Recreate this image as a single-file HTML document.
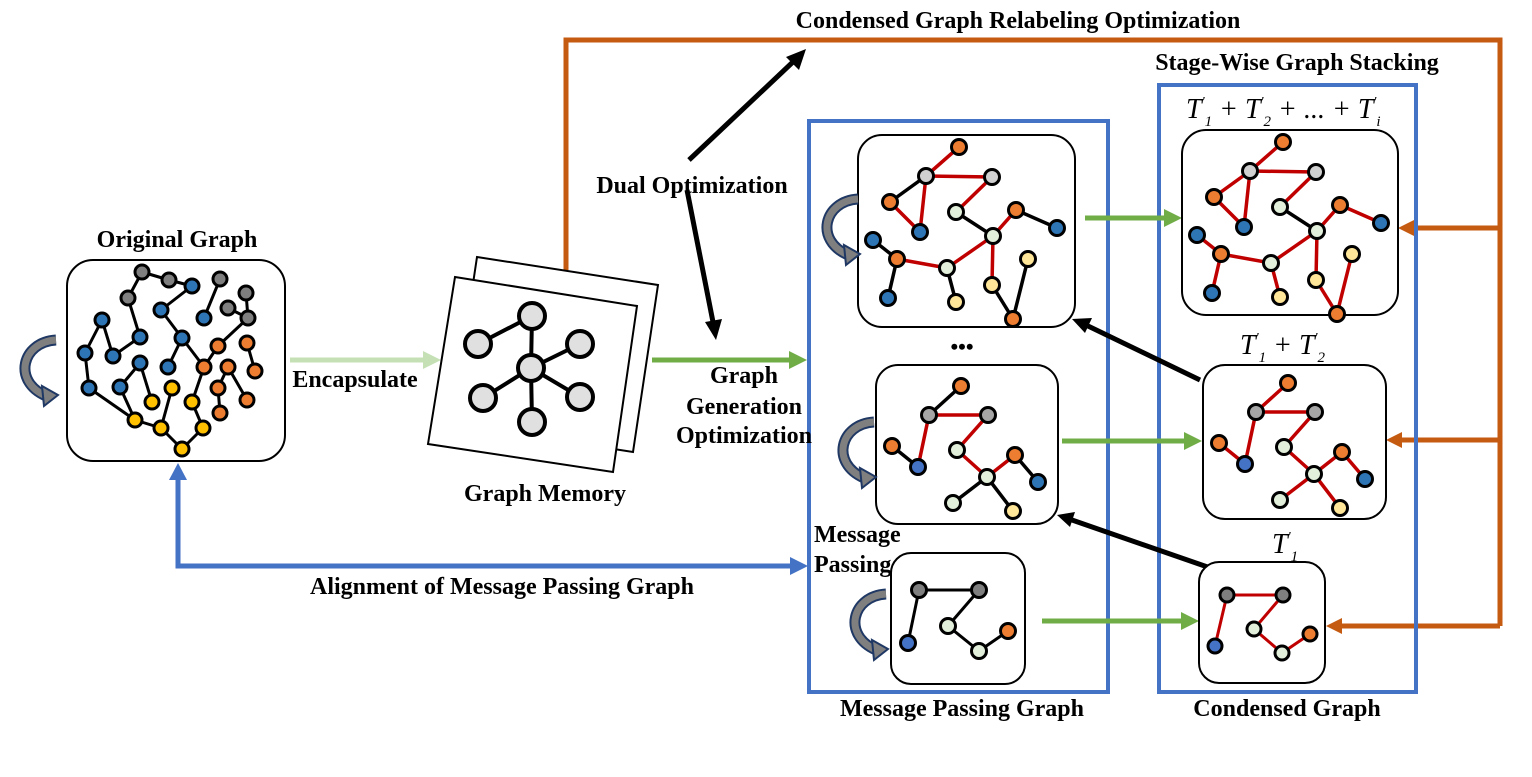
<!DOCTYPE html>
<html><head><meta charset="utf-8"><style>
html,body{margin:0;padding:0;background:#fff;}
svg{display:block;}
text{font-family:"Liberation Serif",serif;font-weight:bold;fill:#000;}
.m{font-family:"Liberation Serif",serif;font-style:italic;font-weight:normal;}
</style></head><body>
<svg width="1532" height="777" viewBox="0 0 1532 777" xmlns="http://www.w3.org/2000/svg">
<defs>
<g id="rot">
<path d="M40,4 C6,6 -4,45 30,60" fill="none" stroke="#1f3864" stroke-width="11"/>
<path d="M40,4 C6,6 -4,45 30,60" fill="none" stroke="#7f7f7f" stroke-width="7"/>
<polygon points="26,50 42,59 28,70" fill="#7f7f7f" stroke="#1f3864" stroke-width="2"/>
</g>
</defs>

<g stroke="#C55A11" stroke-width="5" fill="none">
<polyline points="566,270 566,40 1500,40 1500,626"/>
<line x1="1500" y1="228" x2="1412" y2="228"/>
<line x1="1500" y1="440" x2="1400" y2="440"/>
<line x1="1500" y1="626" x2="1340" y2="626"/>
</g>
<g fill="#C55A11">
<polygon points="1398,228 1414,220 1414,236"/>
<polygon points="1386,440 1402,432 1402,448"/>
<polygon points="1326,626 1342,618 1342,634"/>
</g>

<rect x="809" y="121" width="299" height="571" fill="none" stroke="#4472C4" stroke-width="4"/>
<rect x="1159" y="85" width="257" height="607" fill="none" stroke="#4472C4" stroke-width="4"/>

<polyline points="792,566 178,566 178,478" fill="none" stroke="#4472C4" stroke-width="5"/>
<polygon points="808,566 790,557 790,575" fill="#4472C4"/>
<polygon points="178,463 169,480 187,480" fill="#4472C4"/>

<g stroke-width="5">
<line x1="290" y1="360" x2="425" y2="360" stroke="#C5E0B4"/>
<line x1="652" y1="360" x2="790" y2="360" stroke="#70AD47"/>
<line x1="1085" y1="218" x2="1165" y2="218" stroke="#70AD47"/>
<line x1="1062" y1="441" x2="1185" y2="441" stroke="#70AD47"/>
<line x1="1042" y1="621" x2="1182" y2="621" stroke="#70AD47"/>
</g>
<polygon points="441,360 423,351 423,369" fill="#C5E0B4"/>
<g fill="#70AD47">
<polygon points="807,360 789,351 789,369"/>
<polygon points="1182,218 1164,209 1164,227"/>
<polygon points="1202,441 1184,432 1184,450"/>
<polygon points="1199,621 1181,612 1181,630"/>
</g>

<g stroke="#000" stroke-width="5">
<line x1="689" y1="160" x2="795" y2="60"/>
<line x1="687" y1="190" x2="713" y2="322"/>
<line x1="1200" y1="380" x2="1088" y2="326"/>
<line x1="1222" y1="572" x2="1072" y2="520"/>
</g>
<polygon points="806,49 799,70 786,57" fill="#000"/>
<polygon points="716,340 705,322 722,319" fill="#000"/>
<polygon points="1072,319 1092,318 1085,333" fill="#000"/>
<polygon points="1057,515 1075,512 1070,527" fill="#000"/>

<rect x="67" y="260" width="218" height="201" rx="26" fill="#fff" stroke="#000" stroke-width="2"/>
<use href="#rot" x="16" y="336"/>
<g stroke="#000" stroke-width="3">
<line x1="142" y1="272" x2="169" y2="280"/><line x1="169" y1="280" x2="192" y2="286"/>
<line x1="192" y1="286" x2="161" y2="310"/><line x1="220" y1="279" x2="204" y2="318"/>
<line x1="142" y1="272" x2="128" y2="298"/><line x1="128" y1="298" x2="140" y2="337"/>
<line x1="140" y1="337" x2="113" y2="356"/><line x1="113" y1="356" x2="102" y2="320"/>
<line x1="102" y1="320" x2="85" y2="353"/><line x1="85" y1="353" x2="89" y2="388"/>
<line x1="89" y1="388" x2="135" y2="420"/><line x1="135" y1="420" x2="120" y2="387"/>
<line x1="120" y1="387" x2="140" y2="363"/><line x1="135" y1="420" x2="161" y2="428"/>
<line x1="161" y1="428" x2="172" y2="388"/><line x1="161" y1="428" x2="182" y2="449"/>
<line x1="182" y1="449" x2="203" y2="428"/><line x1="203" y1="428" x2="192" y2="402"/>
<line x1="192" y1="402" x2="204" y2="367"/><line x1="204" y1="367" x2="218" y2="346"/>
<line x1="218" y1="346" x2="248" y2="318"/><line x1="248" y1="318" x2="228" y2="308"/>
<line x1="248" y1="318" x2="246" y2="293"/><line x1="161" y1="310" x2="182" y2="338"/>
<line x1="182" y1="338" x2="168" y2="367"/><line x1="182" y1="338" x2="204" y2="367"/>
<line x1="228" y1="367" x2="218" y2="388"/><line x1="218" y1="388" x2="220" y2="413"/>
<line x1="228" y1="367" x2="247" y2="400"/><line x1="247" y1="343" x2="255" y2="371"/>
<line x1="140" y1="363" x2="152" y2="402"/>
</g>
<g stroke="#000" stroke-width="3">
<g fill="#7f7f7f"><circle cx="142" cy="272" r="7"/><circle cx="169" cy="280" r="7"/><circle cx="128" cy="298" r="7"/><circle cx="220" cy="279" r="7"/><circle cx="246" cy="293" r="7"/><circle cx="228" cy="308" r="7"/><circle cx="248" cy="318" r="7"/></g>
<g fill="#2E75B6"><circle cx="192" cy="286" r="7"/><circle cx="161" cy="310" r="7"/><circle cx="204" cy="318" r="7"/><circle cx="102" cy="320" r="7"/><circle cx="140" cy="337" r="7"/><circle cx="182" cy="338" r="7"/><circle cx="85" cy="353" r="7"/><circle cx="113" cy="356" r="7"/><circle cx="140" cy="363" r="7"/><circle cx="168" cy="367" r="7"/><circle cx="89" cy="388" r="7"/><circle cx="120" cy="387" r="7"/></g>
<g fill="#ED7D31"><circle cx="218" cy="346" r="7"/><circle cx="247" cy="343" r="7"/><circle cx="204" cy="367" r="7"/><circle cx="228" cy="367" r="7"/><circle cx="255" cy="371" r="7"/><circle cx="218" cy="388" r="7"/><circle cx="247" cy="400" r="7"/><circle cx="220" cy="413" r="7"/></g>
<g fill="#FFC000"><circle cx="172" cy="388" r="7"/><circle cx="152" cy="402" r="7"/><circle cx="192" cy="402" r="7"/><circle cx="135" cy="420" r="7"/><circle cx="161" cy="428" r="7"/><circle cx="203" cy="428" r="7"/><circle cx="182" cy="449" r="7"/></g>
</g>

<polygon points="477,257 658,285 633,452 452,424" fill="#fff" stroke="#000" stroke-width="2"/>
<polygon points="455,277 637,306 613,472 428,444" fill="#fff" stroke="#000" stroke-width="2"/>
<g stroke="#000" stroke-width="4">
<line x1="531" y1="368" x2="532" y2="316"/><line x1="532" y1="316" x2="478" y2="344"/>
<line x1="531" y1="368" x2="580" y2="344"/><line x1="531" y1="368" x2="483" y2="398"/>
<line x1="531" y1="368" x2="580" y2="397"/><line x1="531" y1="368" x2="532" y2="422"/>
</g>
<g fill="#E0E0E0" stroke="#000" stroke-width="4">
<circle cx="532" cy="316" r="13"/><circle cx="478" cy="344" r="13"/><circle cx="580" cy="344" r="13"/><circle cx="531" cy="368" r="13"/><circle cx="483" cy="398" r="13"/><circle cx="580" cy="397" r="13"/><circle cx="532" cy="422" r="13"/>
</g>

<rect x="858" y="135" width="217" height="192" rx="24" fill="#fff" stroke="#000" stroke-width="2"/>
<use href="#rot" x="818" y="195"/>
<g id="g1e">
<g stroke="#C00000" stroke-width="3.5">
<line x1="959" y1="147" x2="926" y2="176"/><line x1="926" y1="176" x2="992" y2="177"/>
<line x1="926" y1="176" x2="920" y2="232"/><line x1="890" y1="202" x2="920" y2="232"/>
<line x1="992" y1="177" x2="956" y2="212"/><line x1="993" y1="236" x2="1016" y2="210"/>
<line x1="993" y1="236" x2="947" y2="268"/><line x1="897" y1="259" x2="947" y2="268"/>
<line x1="993" y1="236" x2="992" y2="285"/>
</g>
</g>
<g stroke="#000" stroke-width="3.5">
<line x1="926" y1="176" x2="890" y2="202"/><line x1="956" y1="212" x2="993" y2="236"/>
<line x1="1016" y1="210" x2="1057" y2="228"/><line x1="873" y1="240" x2="897" y2="259"/>
<line x1="897" y1="259" x2="888" y2="298"/><line x1="947" y1="268" x2="956" y2="302"/>
<line x1="992" y1="285" x2="1013" y2="319"/><line x1="1013" y1="319" x2="1028" y2="259"/>
</g>
<g id="g1n" stroke="#000" stroke-width="3">
<circle cx="959" cy="147" r="7.5" fill="#ED7D31"/><circle cx="926" cy="176" r="7.5" fill="#D0D0D0"/>
<circle cx="992" cy="177" r="7.5" fill="#D0D0D0"/><circle cx="890" cy="202" r="7.5" fill="#ED7D31"/>
<circle cx="956" cy="212" r="7.5" fill="#E2EFDA"/><circle cx="1016" cy="210" r="7.5" fill="#ED7D31"/>
<circle cx="1057" cy="228" r="7.5" fill="#2E75B6"/><circle cx="920" cy="232" r="7.5" fill="#2E75B6"/>
<circle cx="993" cy="236" r="7.5" fill="#E2EFDA"/><circle cx="873" cy="240" r="7.5" fill="#2E75B6"/>
<circle cx="897" cy="259" r="7.5" fill="#ED7D31"/><circle cx="947" cy="268" r="7.5" fill="#E2EFDA"/>
<circle cx="1028" cy="259" r="7.5" fill="#FFE699"/><circle cx="992" cy="285" r="7.5" fill="#FFE699"/>
<circle cx="888" cy="298" r="7.5" fill="#2E75B6"/><circle cx="956" cy="302" r="7.5" fill="#FFE699"/>
<circle cx="1013" cy="319" r="7.5" fill="#ED7D31"/>
</g>

<rect x="1182" y="130" width="216" height="185" rx="24" fill="#fff" stroke="#000" stroke-width="2"/>
<g transform="translate(324,-5)">
<use href="#g1e"/>
<g stroke="#C00000" stroke-width="3.5">
<line x1="926" y1="176" x2="890" y2="202"/>
<line x1="1016" y1="210" x2="1057" y2="228"/><line x1="873" y1="240" x2="897" y2="259"/>
<line x1="897" y1="259" x2="888" y2="298"/><line x1="947" y1="268" x2="956" y2="302"/>
<line x1="992" y1="285" x2="1013" y2="319"/><line x1="1013" y1="319" x2="1028" y2="259"/>
</g>
<line x1="956" y1="212" x2="993" y2="236" stroke="#000" stroke-width="3.5"/>
<use href="#g1n"/>
</g>

<rect x="876" y="365" width="182" height="159" rx="22" fill="#fff" stroke="#000" stroke-width="2"/>
<use href="#rot" x="834" y="418"/>
<g stroke="#C00000" stroke-width="3.5">
<line x1="929" y1="415" x2="988" y2="415"/><line x1="929" y1="415" x2="918" y2="467"/>
<line x1="988" y1="415" x2="957" y2="450"/><line x1="957" y1="450" x2="987" y2="477"/>
<line x1="987" y1="477" x2="1015" y2="455"/>
</g>
<g stroke="#000" stroke-width="3.5">
<line x1="961" y1="386" x2="929" y2="415"/><line x1="892" y1="446" x2="918" y2="467"/>
<line x1="1015" y1="455" x2="1038" y2="482"/><line x1="987" y1="477" x2="953" y2="503"/>
<line x1="987" y1="477" x2="1013" y2="511"/>
</g>
<g id="g2n" stroke="#000" stroke-width="3">
<circle cx="961" cy="386" r="7.5" fill="#ED7D31"/><circle cx="929" cy="415" r="7.5" fill="#A6A6A6"/>
<circle cx="988" cy="415" r="7.5" fill="#A6A6A6"/><circle cx="892" cy="446" r="7.5" fill="#ED7D31"/>
<circle cx="957" cy="450" r="7.5" fill="#E2EFDA"/><circle cx="918" cy="467" r="7.5" fill="#4472C4"/>
<circle cx="1015" cy="455" r="7.5" fill="#ED7D31"/><circle cx="987" cy="477" r="7.5" fill="#E2EFDA"/>
<circle cx="1038" cy="482" r="7.5" fill="#2E75B6"/><circle cx="953" cy="503" r="7.5" fill="#E2EFDA"/>
<circle cx="1013" cy="511" r="7.5" fill="#FFE699"/>
</g>

<rect x="1203" y="365" width="183" height="154" rx="22" fill="#fff" stroke="#000" stroke-width="2"/>
<g transform="translate(327,-3)">
<g stroke="#C00000" stroke-width="3.5">
<line x1="929" y1="415" x2="988" y2="415"/><line x1="929" y1="415" x2="918" y2="467"/>
<line x1="988" y1="415" x2="957" y2="450"/><line x1="957" y1="450" x2="987" y2="477"/>
<line x1="987" y1="477" x2="1015" y2="455"/>
<line x1="961" y1="386" x2="929" y2="415"/><line x1="892" y1="446" x2="918" y2="467"/>
<line x1="1015" y1="455" x2="1038" y2="482"/><line x1="987" y1="477" x2="953" y2="503"/>
<line x1="987" y1="477" x2="1013" y2="511"/>
</g>
<use href="#g2n"/>
</g>

<rect x="891" y="553" width="134" height="131" rx="20" fill="#fff" stroke="#000" stroke-width="2"/>
<use href="#rot" x="846" y="590"/>
<g stroke="#000" stroke-width="3">
<line x1="919" y1="590" x2="979" y2="590"/><line x1="919" y1="590" x2="908" y2="643"/>
<line x1="979" y1="590" x2="948" y2="626"/><line x1="948" y1="626" x2="979" y2="651"/>
<line x1="979" y1="651" x2="1008" y2="631"/>
</g>
<g stroke="#000" stroke-width="3">
<circle cx="919" cy="590" r="7.5" fill="#7f7f7f"/><circle cx="979" cy="590" r="7.5" fill="#7f7f7f"/>
<circle cx="948" cy="626" r="7.5" fill="#E2EFDA"/><circle cx="1008" cy="631" r="7.5" fill="#ED7D31"/>
<circle cx="908" cy="643" r="7.5" fill="#4472C4"/><circle cx="979" cy="651" r="7.5" fill="#E2EFDA"/>
</g>

<rect x="1199" y="562" width="126" height="121" rx="20" fill="#fff" stroke="#000" stroke-width="2"/>
<g stroke="#C00000" stroke-width="3">
<line x1="1227" y1="595" x2="1283" y2="595"/><line x1="1227" y1="595" x2="1215" y2="646"/>
<line x1="1283" y1="595" x2="1254" y2="629"/><line x1="1254" y1="629" x2="1282" y2="653"/>
<line x1="1282" y1="653" x2="1310" y2="634"/>
</g>
<g stroke="#000" stroke-width="3">
<circle cx="1227" cy="595" r="7" fill="#7f7f7f"/><circle cx="1283" cy="595" r="7" fill="#7f7f7f"/>
<circle cx="1254" cy="629" r="7" fill="#E2EFDA"/><circle cx="1310" cy="634" r="7" fill="#ED7D31"/>
<circle cx="1215" cy="646" r="7" fill="#4472C4"/><circle cx="1282" cy="653" r="7" fill="#E2EFDA"/>
</g>

<g font-size="24">
<text x="1018" y="28" text-anchor="middle">Condensed Graph Relabeling Optimization</text>
<text x="1297" y="70" text-anchor="middle">Stage-Wise Graph Stacking</text>
<text x="177" y="247" text-anchor="middle">Original Graph</text>
<text x="355" y="387" text-anchor="middle">Encapsulate</text>
<text x="692" y="193" text-anchor="middle">Dual Optimization</text>
<text x="744" y="383" text-anchor="middle">Graph</text>
<text x="744" y="414" text-anchor="middle">Generation</text>
<text x="744" y="443" text-anchor="middle">Optimization</text>
<text x="545" y="501" text-anchor="middle">Graph Memory</text>
<text x="814" y="542">Message</text>
<text x="814" y="572">Passing</text>
<text x="502" y="594" text-anchor="middle">Alignment of Message Passing Graph</text>
<text x="962" y="716" text-anchor="middle">Message Passing Graph</text>
<text x="1287" y="716" text-anchor="middle">Condensed Graph</text>
<text x="962" y="354" text-anchor="middle" font-size="22">•••</text>
</g>
<g class="m" font-size="28">
<text x="1186" y="118" class="m">T<tspan font-size="14" dy="-12">'</tspan><tspan font-size="15" dy="20">1</tspan><tspan dy="-8"> + T</tspan><tspan font-size="14" dy="-12">'</tspan><tspan font-size="15" dy="20">2</tspan><tspan dy="-8"> + ... + T</tspan><tspan font-size="14" dy="-12">'</tspan><tspan font-size="15" dy="20">i</tspan></text>
<text x="1240" y="354" class="m">T<tspan font-size="14" dy="-12">'</tspan><tspan font-size="15" dy="20">1</tspan><tspan dy="-8"> + T</tspan><tspan font-size="14" dy="-12">'</tspan><tspan font-size="15" dy="20">2</tspan></text>
<text x="1272" y="553" class="m">T<tspan font-size="14" dy="-12">'</tspan><tspan font-size="15" dy="20">1</tspan></text>
</g>
</svg>
</body></html>
